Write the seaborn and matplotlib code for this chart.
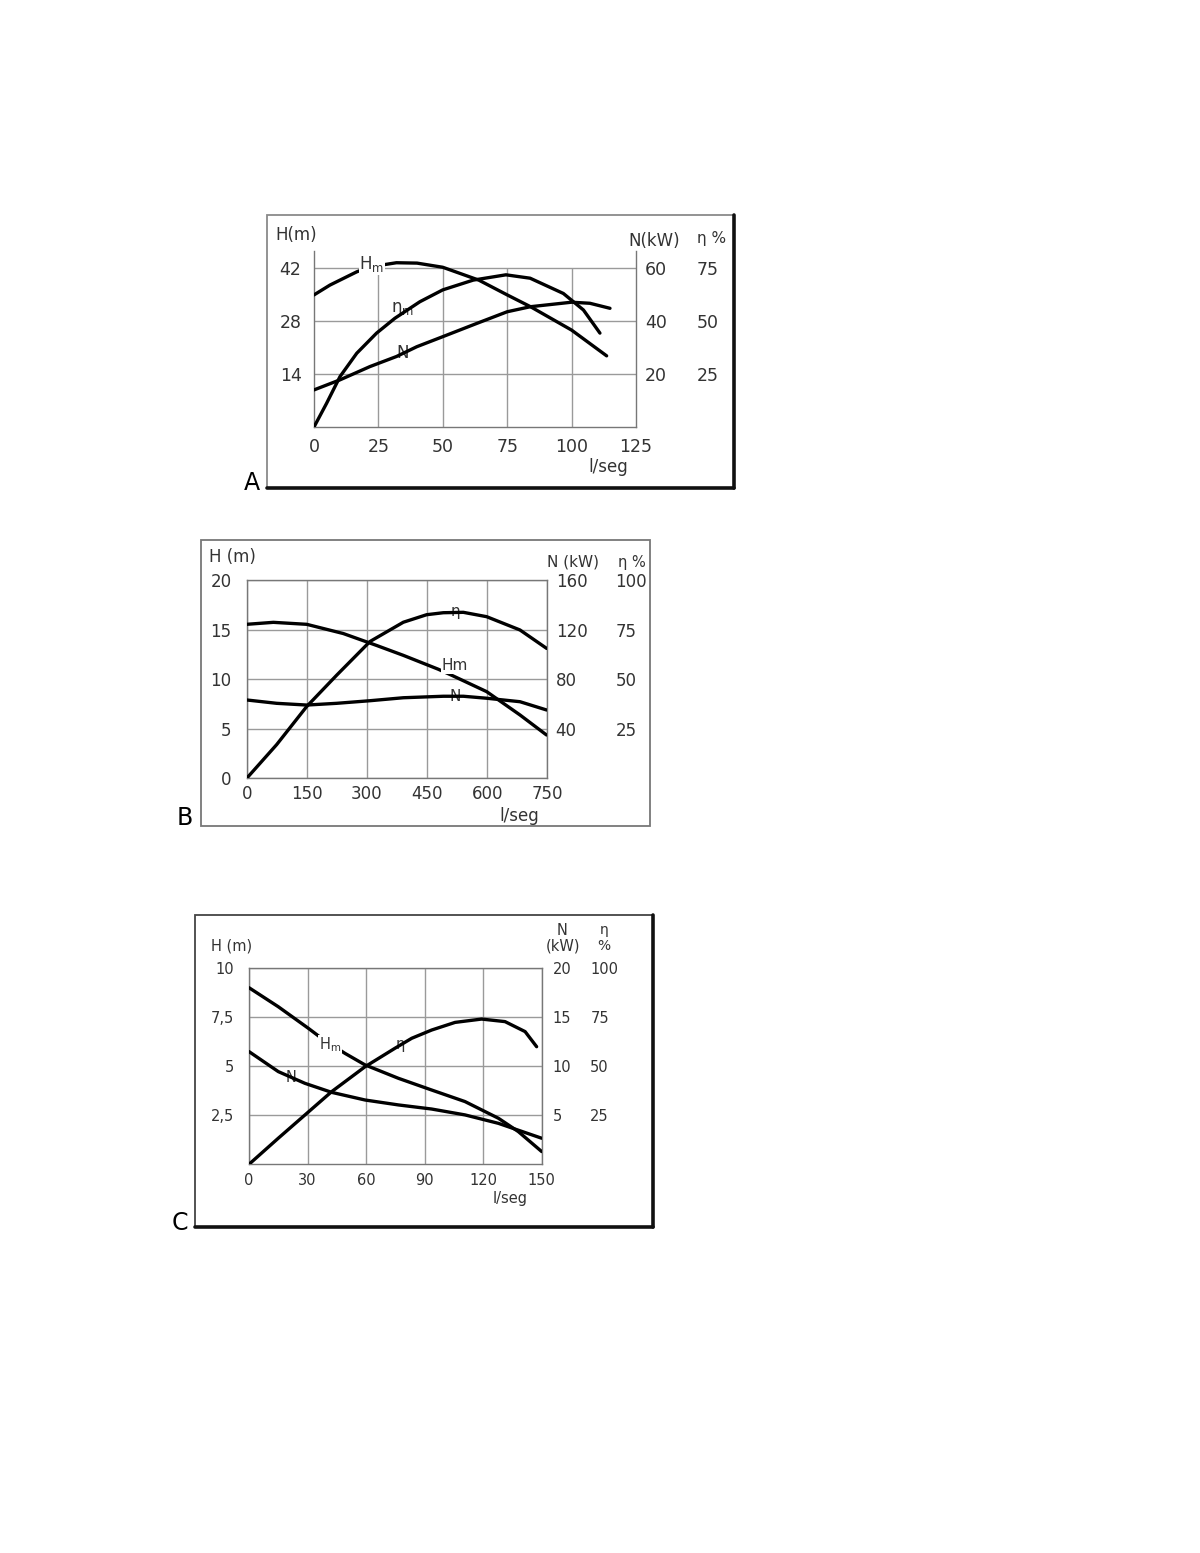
import numpy as np
import pandas as pd
import seaborn as sns
import matplotlib
matplotlib.use('Agg')
import matplotlib.pyplot as plt
from matplotlib.patches import Rectangle
from matplotlib.lines import Line2D

sns.set_style('white')
plt.rcParams['font.family'] = ['DejaVu Sans']

FIG_W, FIG_H = 1200, 1553

# =========================
#  DATA - PANEL A
# =========================
A_HM_Q = [0, 6.2, 16.6, 21.7, 32, 40, 50, 64, 75, 84, 100, 113.6]
A_HM = [34.9, 37.5, 41.0, 42.3, 43.4, 43.3, 42.2, 38.8, 34.9, 31.8, 25.6, 18.8]
A_ETA_Q = [0, 4.9, 10.1, 16.6, 24.3, 31.4, 41.1, 50, 61.8, 74.5, 83.9, 96.8, 104.6, 111]
A_ETA = [0, 11.2, 23.8, 34.8, 44.3, 51.3, 59.1, 64.7, 69.3, 71.8, 70.2, 63.0, 55.2, 44.3]
A_N_Q = [0, 10.1, 21.7, 32, 39.9, 50, 63.2, 75, 84, 100, 107.1, 114.9]
A_N = [14.0, 17.8, 22.8, 26.6, 30.3, 34.1, 39.1, 43.5, 45.4, 47.1, 46.7, 44.8]
A_XTICKS = [0, 25, 50, 75, 100, 125]
A_HTICKS = [14, 28, 42]
A_NTICKS = [20, 40, 60]
A_ETICKS = [25, 50, 75]

# =========================
#  DATA - PANEL B
# =========================
B_HM_Q = [0, 66.5, 149.7, 241, 324, 390.8, 478, 511, 598.7, 681.8, 748]
B_HM = [15.53, 15.73, 15.53, 14.6, 13.4, 12.4, 11.0, 10.4, 8.74, 6.39, 4.37]
B_ETA_Q = [0, 74.8, 149.7, 224.5, 307.7, 390.8, 449, 490.6, 540.5, 598.7, 681.8, 748.4]
B_ETA = [0, 17.0, 36.2, 52.0, 69.0, 78.7, 82.5, 83.5, 83.7, 81.5, 74.8, 65.5]
B_N_Q = [0, 74.8, 149.7, 224.5, 307.7, 390.8, 490.6, 540.5, 598.7, 681.8, 748.4]
B_N = [63.2, 60.5, 59.1, 60.5, 62.6, 65.0, 66.2, 66.2, 64.6, 61.8, 55.1]
B_XTICKS = [0, 150, 300, 450, 600, 750]
B_HTICKS = [0, 5, 10, 15, 20]
B_NTICKS = [40, 80, 120, 160]
B_ETICKS = [25, 50, 75, 100]

# =========================
#  DATA - PANEL C
# =========================
C_HM_Q = [0, 15, 30.4, 37.2, 49.2, 59.5, 76.5, 93.6, 110.7, 127.8, 138, 150]
C_HM = [9.01, 8.04, 6.94, 6.43, 5.66, 5.07, 4.39, 3.79, 3.2, 2.35, 1.67, 0.65]
C_ETA_Q = [0, 15, 28.7, 42.4, 59.5, 74.8, 83.4, 93.6, 105.6, 119.2, 131.2, 141.5, 147.4]
C_ETA = [0, 13.3, 25.2, 37.1, 49.8, 59.2, 64.3, 68.5, 72.4, 74.1, 72.8, 67.7, 60.0]
C_N_Q = [0, 15, 28.7, 42.4, 59.5, 76.5, 93.6, 110.7, 127.8, 150]
C_N = [11.5, 9.46, 8.26, 7.34, 6.56, 6.06, 5.64, 5.04, 4.18, 2.66]
C_XTICKS = [0, 30, 60, 90, 120, 150]
C_HTICKS = [2.5, 5, 7.5, 10]
C_HTICKLABELS = ['2,5', '5', '7,5', '10']
C_NTICKS = [5, 10, 15, 20]
C_ETICKS = [25, 50, 75, 100]

TXT = '#333333'
GRID = '#9a9a9a'


def fx(x):
    return x / FIG_W


def fy(y):
    return 1 - y / FIG_H


def add_axes_px(fig, x0, x1, y_bottom, y_top):
    return fig.add_axes([fx(x0), fy(y_bottom), (x1 - x0) / FIG_W, (y_bottom - y_top) / FIG_H])


def curve(ax, q, v):
    sns.lineplot(x=q, y=v, ax=ax, color='black', linewidth=2.4, estimator=None, zorder=3)
    ax.set_xlabel('')
    ax.set_ylabel('')


def curve_label(ax, x, y, s, size):
    ax.text(x, y, s, ha='center', va='center', fontsize=size, color=TXT, zorder=5,
            bbox=dict(facecolor='white', edgecolor='none', pad=0.5))


def right_axis(ax, ylim, ticks, pad, size, labels=None):
    tw = ax.twinx()
    tw.set_ylim(*ylim)
    tw.set_yticks(ticks)
    if labels is not None:
        tw.set_yticklabels(labels)
    for sp in tw.spines.values():
        sp.set_visible(False)
    tw.tick_params(axis='y', length=0, pad=pad, labelsize=size, labelcolor=TXT)
    return tw


def frame(fig, x0, y0, x1, y1, thin_color, thick):
    fig.add_artist(Rectangle((fx(x0), fy(y1)), (x1 - x0) / FIG_W, (y1 - y0) / FIG_H,
                             transform=fig.transFigure, fill=False,
                             edgecolor=thin_color, linewidth=1.3))
    if thick:
        fig.add_artist(Line2D([fx(x0), fx(x1)], [fy(y1), fy(y1)], transform=fig.transFigure,
                              color='#111111', linewidth=2.6))
        fig.add_artist(Line2D([fx(x1), fx(x1)], [fy(y0), fy(y1)], transform=fig.transFigure,
                              color='#111111', linewidth=2.6))


def style_main(ax, xlim, ylim, xticks, yticks, size, xpad, ypad, ylabels=None):
    ax.set_xlim(*xlim)
    ax.set_ylim(*ylim)
    ax.set_xticks(xticks)
    ax.set_yticks(yticks)
    if ylabels is not None:
        ax.set_yticklabels(ylabels)
    ax.tick_params(axis='x', length=0, pad=xpad, labelsize=size, labelcolor=TXT)
    ax.tick_params(axis='y', length=0, pad=ypad, labelsize=size, labelcolor=TXT)
    for sp in ax.spines.values():
        sp.set_color('#777777')
        sp.set_linewidth(1.0)


fig = plt.figure(figsize=(12, 15.53), dpi=100)

# =========================
#  PANEL A
# =========================
frame(fig, 267, 215, 734, 488, '#8a8a8a', True)
axA = add_axes_px(fig, 314, 636, 427, 251)
A_TOP = 46.5
style_main(axA, (0, 125), (0, A_TOP), A_XTICKS, A_HTICKS, 12.5, 8, 9)
axA.spines['top'].set_visible(False)
axA.vlines(A_XTICKS[1:-1], 0, 42, color=GRID, linewidth=1.0, zorder=1)
axA.hlines(A_HTICKS, 0, 125, color=GRID, linewidth=1.0, zorder=1)
curve(axA, A_HM_Q, A_HM)
nA = right_axis(axA, (0, A_TOP * 20 / 14), A_NTICKS, 6.5, 12.5)
eA = right_axis(axA, (0, A_TOP * 25 / 14), A_ETICKS, 44, 12.5)
for t in (nA, eA):
    t.set_xlim(0, 125)
curve(nA, A_N_Q, A_N)
curve(eA, A_ETA_Q, A_ETA)
curve_label(axA, 22.5, 43.0, r'H$_\mathregular{m}$', 12)
curve_label(axA, 34.5, 31.2, r'η$_\mathregular{m}$', 12)
curve_label(axA, 34.5, 19.5, 'N', 12)
fig.text(fx(296), fy(235), 'H(m)', ha='center', va='center', fontsize=12, color=TXT)
fig.text(fx(654), fy(241), 'N(kW)', ha='center', va='center', fontsize=12, color=TXT)
fig.text(fx(712), fy(239), 'η %', ha='center', va='center', fontsize=11, color=TXT)
fig.text(fx(608), fy(467), 'l/seg', ha='center', va='center', fontsize=12, color=TXT)
fig.text(fx(252), fy(483), 'A', ha='center', va='center', fontsize=17, color='black')

# =========================
#  PANEL B
# =========================
frame(fig, 201, 540, 650, 826, '#777777', False)
axB = add_axes_px(fig, 246.7, 547.3, 778.3, 580)
style_main(axB, (0, 750), (0, 20), B_XTICKS, B_HTICKS, 12, 5, 11)
axB.grid(True, color=GRID, linewidth=1.0)
axB.set_axisbelow(True)
curve(axB, B_HM_Q, B_HM)
nB = right_axis(axB, (0, 160), B_NTICKS, 6, 12)
eB = right_axis(axB, (0, 100), B_ETICKS, 49, 12)
for t in (nB, eB):
    t.set_xlim(0, 750)
curve(nB, B_N_Q, B_N)
curve(eB, B_ETA_Q, B_ETA)
curve_label(axB, 519.7, 16.8, 'η', 11)
curve_label(axB, 519.7, 11.4, 'Hm', 11)
curve_label(axB, 519.7, 8.2, 'N', 11)
fig.text(fx(232), fy(557), 'H (m)', ha='center', va='center', fontsize=12, color=TXT)
fig.text(fx(573), fy(562), 'N (kW)', ha='center', va='center', fontsize=11, color=TXT)
fig.text(fx(632), fy(562), 'η %', ha='center', va='center', fontsize=10.5, color=TXT)
fig.text(fx(519), fy(816), 'l/seg', ha='center', va='center', fontsize=12, color=TXT)
fig.text(fx(185), fy(818), 'B', ha='center', va='center', fontsize=17, color='black')

# =========================
#  PANEL C
# =========================
frame(fig, 195, 915, 653, 1227, '#444444', True)
axC = add_axes_px(fig, 249, 541.7, 1164.3, 968.3)
style_main(axC, (0, 150), (0, 10), C_XTICKS, C_HTICKS, 10.5, 6, 11, C_HTICKLABELS)
axC.grid(True, color=GRID, linewidth=1.0)
axC.set_axisbelow(True)
curve(axC, C_HM_Q, C_HM)
nC = right_axis(axC, (0, 20), C_NTICKS, 8, 10.5)
eC = right_axis(axC, (0, 100), C_ETICKS, 35, 10.5)
for t in (nC, eC):
    t.set_xlim(0, 150)
curve(nC, C_N_Q, C_N)
curve(eC, C_ETA_Q, C_ETA)
curve_label(axC, 41.5, 6.09, r'H$_\mathregular{m}$', 10.5)
curve_label(axC, 77.4, 6.09, 'η', 10.5)
curve_label(axC, 21.5, 4.45, 'N', 10.5)
fig.text(fx(232), fy(946), 'H (m)', ha='center', va='center', fontsize=10.5, color=TXT)
fig.text(fx(562), fy(930), 'N', ha='center', va='center', fontsize=10.5, color=TXT)
fig.text(fx(563), fy(946), '(kW)', ha='center', va='center', fontsize=10.5, color=TXT)
fig.text(fx(604), fy(930), 'η', ha='center', va='center', fontsize=10, color=TXT)
fig.text(fx(604), fy(946), '%', ha='center', va='center', fontsize=10, color=TXT)
fig.text(fx(510), fy(1198), 'l/seg', ha='center', va='center', fontsize=10.5, color=TXT)
fig.text(fx(180), fy(1223), 'C', ha='center', va='center', fontsize=17, color='black')

fig.savefig('out.png', dpi=100, facecolor='white')
plt.close(fig)
